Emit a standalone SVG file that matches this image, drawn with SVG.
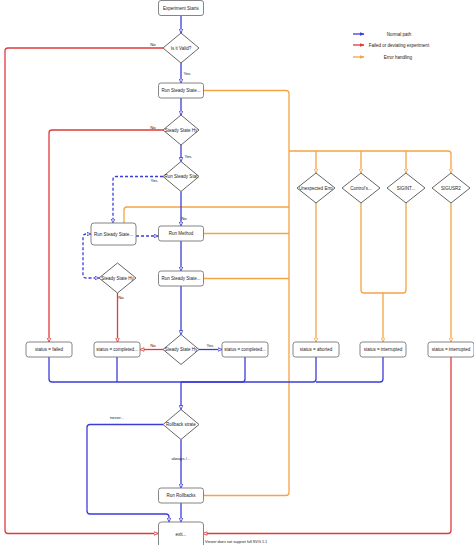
<svg xmlns="http://www.w3.org/2000/svg" width="474" height="545" viewBox="0 0 474 545">
<style>
text{font-family:"Liberation Sans",Arial,sans-serif;font-size:4.5px;fill:#222;text-anchor:middle;dominant-baseline:central}
.lbl{font-size:4.3px}
.box{fill:#fff;stroke:#777;stroke-width:0.9}
.dia{fill:#fff;stroke:#555;stroke-width:0.9}
.b{fill:none;stroke:#3c3cd8;stroke-width:1.3}
.r{fill:none;stroke:#e03a3a;stroke-width:1.3}
.o{fill:none;stroke:#f5a347;stroke-width:1.3}
.d{stroke-dasharray:3,2}
</style>
<defs>
<marker id="ab" viewBox="0 0 10 10" refX="9" refY="5" markerWidth="5" markerHeight="5" markerUnits="userSpaceOnUse" orient="auto-start-reverse"><path d="M1,1.5 L9,5 L1,8.5 Z" fill="#fff" stroke="#3c3cd8" stroke-width="1.6"/></marker>
<marker id="ar" viewBox="0 0 10 10" refX="9" refY="5" markerWidth="5" markerHeight="5" markerUnits="userSpaceOnUse" orient="auto"><path d="M1,1.5 L9,5 L1,8.5 Z" fill="#fff" stroke="#e03a3a" stroke-width="1.6"/></marker>
<marker id="ao" viewBox="0 0 10 10" refX="9" refY="5" markerWidth="5" markerHeight="5" markerUnits="userSpaceOnUse" orient="auto"><path d="M1,1.5 L9,5 L1,8.5 Z" fill="#fff" stroke="#f5a347" stroke-width="1.6"/></marker>
<marker id="fb" viewBox="0 0 10 10" refX="9" refY="5" markerWidth="5" markerHeight="5" markerUnits="userSpaceOnUse" orient="auto"><path d="M0,1 L10,5 L0,9 Z" fill="#3c3cd8"/></marker>
<marker id="fr" viewBox="0 0 10 10" refX="9" refY="5" markerWidth="5" markerHeight="5" markerUnits="userSpaceOnUse" orient="auto"><path d="M0,1 L10,5 L0,9 Z" fill="#e03a3a"/></marker>
<marker id="fo" viewBox="0 0 10 10" refX="9" refY="5" markerWidth="5" markerHeight="5" markerUnits="userSpaceOnUse" orient="auto"><path d="M0,1 L10,5 L0,9 Z" fill="#f5a347"/></marker>
</defs>
<rect width="474" height="545" fill="#fff"/>

<g id="connectors">
<!-- orange -->
<path class="o" d="M203,90.5 H286 Q289,90.5 289,93.5 V492.5 Q289,495.5 286,495.5 H203"/>
<path class="o" d="M203,233.5 H289"/>
<path class="o" d="M203,278.5 H289"/>
<path class="o" d="M124,223 V210 Q124,207 127,207 H289"/>
<path class="o" d="M289,151 H448 Q451,151 451,154 V173" marker-end="url(#ao)"/>
<path class="o" d="M316,151 V173" marker-end="url(#ao)"/>
<path class="o" d="M361,151 V173" marker-end="url(#ao)"/>
<path class="o" d="M406,151 V173" marker-end="url(#ao)"/>
<path class="o" d="M316,203 V342" marker-end="url(#ao)"/>
<path class="o" d="M361,203 V290 Q361,293 364,293 H383 V342" marker-end="url(#ao)"/>
<path class="o" d="M406,203 V290 Q406,293 403,293 H383"/>
<path class="o" d="M451,203 V342" marker-end="url(#ao)"/>
<!-- blue -->
<path class="b" d="M181,15.5 V33" marker-end="url(#ab)"/>
<path class="b" d="M181,63 V83" marker-end="url(#ab)"/>
<path class="b" d="M181,98 V115" marker-end="url(#ab)"/>
<path class="b" d="M181,145 V161.5" marker-end="url(#ab)"/>
<path class="b" d="M181,191.5 V226" marker-end="url(#ab)"/>
<path class="b" d="M181,241 V271" marker-end="url(#ab)"/>
<path class="b" d="M181,286 V334.5" marker-end="url(#ab)"/>
<path class="b" d="M199,349.5 H222" marker-end="url(#ab)"/>
<path class="b" d="M49,357 V379 Q49,382 52,382 H181"/>
<path class="b" d="M117,357 V382"/>
<path class="b" d="M245,357 V379 Q245,382 242,382 H181"/>
<path class="b" d="M316,357 V379 Q316,382 313,382 H181"/>
<path class="b" d="M383,357 V379 Q383,382 380,382 H316"/>
<path class="b" d="M181,382 V409.5" marker-end="url(#ab)"/>
<path class="b" d="M181,439.5 V488" marker-end="url(#ab)"/>
<path class="b" d="M181,503 V522" marker-end="url(#ab)"/>
<path class="b" d="M163,424.5 H90 Q87,424.5 87,427.5 V511 Q87,514 90,514 H166 Q169,514 169,517 V522" marker-end="url(#ab)"/>
<path class="b d" d="M163,176.5 H116 Q113,176.5 113,179.5 V223" marker-end="url(#ab)"/>
<path class="b d" d="M136,236 H158" marker-end="url(#ab)"/>
<path class="b d" d="M91,234 H86 Q83,234 83,237 V275 Q83,278 86,278 H99" marker-start="url(#ab)" marker-end="url(#ab)"/>
<!-- red -->
<path class="r" d="M163,48 H8 Q5,48 5,51 V530.5 Q5,533.5 8,533.5 H158" marker-end="url(#ar)"/>
<path class="r" d="M163,130 H52 Q49,130 49,133 V342" marker-end="url(#ar)"/>
<path class="r" d="M117.5,293 V342" marker-end="url(#ar)"/>
<path class="r" d="M163,349.5 H140" marker-end="url(#ar)"/>
<path class="r" d="M451,357 V530.5 Q451,533.5 448,533.5 H203" marker-end="url(#ar)"/>
<!-- labels -->
<text class="lbl" x="153" y="44">No</text>
<text class="lbl" x="187" y="73">Yes</text>
<text class="lbl" x="153" y="127">No</text>
<text class="lbl" x="188" y="156">Yes</text>
<text class="lbl" x="154" y="180">Yes</text>
<text class="lbl" x="184" y="218">No</text>
<text class="lbl" x="121" y="297">No</text>
<text class="lbl" x="153" y="345">No</text>
<text class="lbl" x="210" y="345">Yes</text>
<text class="lbl" x="117" y="417">never...</text>
<text class="lbl" x="181" y="458">always /...</text>
</g>

<g id="legend">
<path d="M353,34 H364" stroke="#3c3cd8" stroke-width="1.3" marker-end="url(#fb)"/>
<text x="399" y="34">Normal path</text>
<path d="M353,45 H364" stroke="#e03a3a" stroke-width="1.3" marker-end="url(#fr)"/>
<text x="399" y="45">Failed or deviating experiment</text>
<path d="M353,57 H364" stroke="#f5a347" stroke-width="1.3" marker-end="url(#fo)"/>
<text x="398" y="57">Error handling</text>
</g>

<g id="start"><rect class="box" x="158.5" y="0.5" width="45" height="15" rx="2.5"/><text x="181" y="8">Experiment Starts</text></g>
<g id="valid"><path class="dia" d="M181,33 L199,48 L181,63 L163,48 Z"/><text x="181" y="48">Is it Valid?</text></g>
<g id="rss1"><rect class="box" x="158.5" y="83" width="45" height="15" rx="2.5"/><text x="181" y="90.5">Run Steady State...</text></g>
<g id="ssh1"><path class="dia" d="M181,115 L199,130 L181,145 L163,130 Z"/><text x="181" y="130">Steady State Hy</text></g>
<g id="rssDia"><path class="dia" d="M181,161.5 L199,176.5 L181,191.5 L163,176.5 Z"/><text x="181" y="176.5">Run Steady Stat</text></g>
<g id="rssLeft"><rect class="box" x="91" y="223" width="45" height="22" rx="3"/><text x="113.5" y="234">Run Steady State...</text></g>
<g id="runMethod"><rect class="box" x="158.5" y="226" width="45" height="15" rx="2.5"/><text x="181" y="233.5">Run Method</text></g>
<g id="sshLeft"><path class="dia" d="M117.5,263 L136,278 L117.5,293 L99,278 Z"/><text x="117.5" y="278">Steady State Hy</text></g>
<g id="rss2"><rect class="box" x="158.5" y="271" width="45" height="15" rx="2.5"/><text x="181" y="278.5">Run Steady State...</text></g>
<g id="sshCenter"><path class="dia" d="M181,334.5 L199,349.5 L181,364.5 L163,349.5 Z"/><text x="181" y="349.5">Steady State Hy</text></g>
<g id="unexpected"><path class="dia" d="M316,173 L335,188 L316,203 L297,188 Z"/><text x="316" y="188">Unexpected Erro</text></g>
<g id="controlc"><path class="dia" d="M361,173 L380,188 L361,203 L342,188 Z"/><text x="361" y="188">Control's...</text></g>
<g id="sigint"><path class="dia" d="M406,173 L425,188 L406,203 L387,188 Z"/><text x="406" y="188">SIGINT...</text></g>
<g id="sigusr2"><path class="dia" d="M451,173 L470,188 L451,203 L432,188 Z"/><text x="451" y="188">SIGUSR2</text></g>
<g id="failed"><rect class="box" x="26" y="342" width="46" height="15" rx="2.5"/><text x="49" y="349.5">status = failed</text></g>
<g id="completedL"><rect class="box" x="94" y="342" width="46" height="15" rx="2.5"/><text x="117" y="349.5">status = completed...</text></g>
<g id="completedR"><rect class="box" x="222" y="342" width="46" height="15" rx="2.5"/><text x="245" y="349.5">status = completed...</text></g>
<g id="aborted"><rect class="box" x="293" y="342" width="46" height="15" rx="2.5"/><text x="316" y="349.5">status = aborted</text></g>
<g id="interrupted1"><rect class="box" x="360" y="342" width="46" height="15" rx="2.5"/><text x="383" y="349.5">status = interrupted</text></g>
<g id="interrupted2"><rect class="box" x="428" y="342" width="46" height="15" rx="2.5"/><text x="451" y="349.5">status = interrupted</text></g>
<g id="rollback"><path class="dia" d="M181,409.5 L199,424.5 L181,439.5 L163,424.5 Z"/><text x="181" y="424.5">Rollback strate</text></g>
<g id="rollbacks"><rect class="box" x="158.5" y="488" width="45" height="15" rx="2.5"/><text x="181" y="495.5">Run Rollbacks</text></g>
<g id="exit"><rect class="box" x="158.5" y="522" width="45" height="30" rx="3"/><text x="181" y="534">exit...</text></g>
<text x="205" y="542" style="font-size:3.8px;text-anchor:start">Viewer does not support full SVG 1.1</text>
</svg>
